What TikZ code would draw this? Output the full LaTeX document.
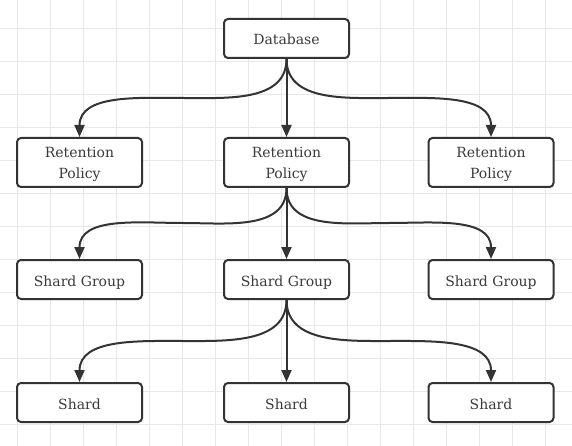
\documentclass[tikz,border=0pt]{standalone}
\usepackage{fontspec}
\setmainfont{DejaVu Serif}
\usetikzlibrary{arrows.meta}
\definecolor{ink}{HTML}{333333}
\definecolor{txt}{HTML}{3A3A3A}
\definecolor{gridc}{HTML}{E8E8E8}
\begin{document}
\begin{tikzpicture}[x=1pt,y=-1pt,
  box/.style={draw=ink,line width=2pt,rounded corners=4pt,fill=white,
    minimum width=125pt,minimum height=39pt,inner sep=0pt,align=center,
    text=txt,font=\fontsize{14}{21}\selectfont,text height=14pt,text depth=1pt},
  tall/.style={minimum height=49pt,text height=35pt,text depth=2pt},
  conn/.style={draw=ink,line width=2pt,-{Triangle[length=12pt,width=10pt]}},
  gridline/.style={draw=gridc,line width=1pt}]
\useasboundingbox (0,0) rectangle (572,446);
\fill[white] (0,0) rectangle (572,446);
\foreach \k in {0,...,16} \draw[gridline] (17+33*\k,0) -- (17+33*\k,446);
\foreach \k in {0,...,12} \draw[gridline] (0,28.3+33*\k) -- (572,28.3+33*\k);

\node[box] (db) at (286.5,38.5) {Database};
\node[box,tall] (rp1) at (79.5,162.5) {Retention\\Policy};
\node[box,tall] (rp2) at (286.5,162.5) {Retention\\Policy};
\node[box,tall] (rp3) at (491,162.5) {Retention\\Policy};
\node[box] (sg1) at (79.5,279.5) {Shard Group};
\node[box] (sg2) at (286.5,279.5) {Shard Group};
\node[box] (sg3) at (491,279.5) {Shard Group};
\node[box] (s1) at (79.5,402.5) {Shard};
\node[box] (s2) at (286.5,402.5) {Shard};
\node[box] (s3) at (491,402.5) {Shard};

\coordinate (m1l) at (183,98);
\coordinate (m1r) at (389,98);
\coordinate (m2l) at (183,223);
\coordinate (m2r) at (389,223);
\coordinate (m3l) at (183,341);
\coordinate (m3r) at (389,341);

\draw[conn] (db.south) to[out=-90,in=0] (m1l) to[out=180,in=90] (rp1.north);
\draw[conn] (db.south) -- (rp2.north);
\draw[conn] (db.south) to[out=-90,in=180] (m1r) to[out=0,in=90] (rp3.north);

\draw[conn] (rp2.south) to[out=-90,in=0] (m2l) to[out=180,in=90] (sg1.north);
\draw[conn] (rp2.south) -- (sg2.north);
\draw[conn] (rp2.south) to[out=-90,in=180] (m2r) to[out=0,in=90] (sg3.north);

\draw[conn] (sg2.south) to[out=-90,in=0] (m3l) to[out=180,in=90] (s1.north);
\draw[conn] (sg2.south) -- (s2.north);
\draw[conn] (sg2.south) to[out=-90,in=180] (m3r) to[out=0,in=90] (s3.north);
\end{tikzpicture}
\end{document}
